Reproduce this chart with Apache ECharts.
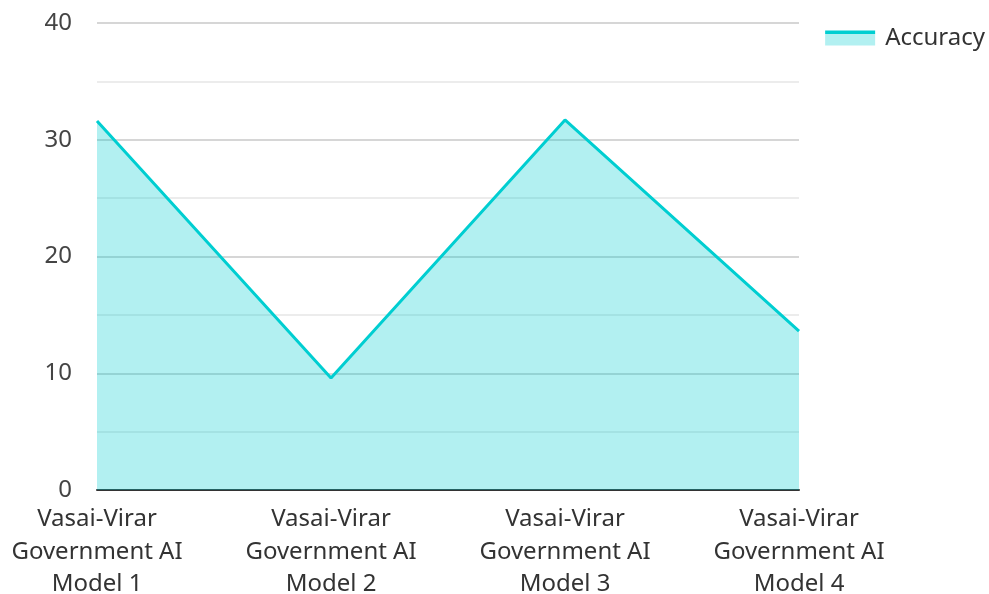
<!DOCTYPE html>
<html><head><meta charset="utf-8">
<script src="https://cdn.jsdelivr.net/npm/echarts@6/dist/echarts.min.js"></script>
<style>html,body{margin:0;padding:0;background:#fff;overflow:hidden}#c{width:989px;height:594px}</style>
</head><body><div id="c"></div>
<script>
const categories = ["Vasai-Virar Government AI Model 1","Vasai-Virar Government AI Model 2","Vasai-Virar Government AI Model 3","Vasai-Virar Government AI Model 4"];
const seriesName = "Accuracy";
const accuracy = [31.6, 9.6, 31.7, 13.6];
const yTicks = [0, 10, 20, 30, 40];

const chart = echarts.init(document.getElementById('c'), null, {renderer:'canvas'});
const font = "'Noto Sans', sans-serif";
chart.setOption({
  animation: false,
  textStyle: {fontFamily: font},
  grid: {left: 97, right: 190, top: 23, bottom: 104, containLabel: false, outerBoundsMode: 'none'},
  legend: {
    show: true, right: 4, top: 26, padding: 0, itemWidth: 50, itemHeight: 15, itemGap: 10,
    icon: 'rect',
    textStyle: {fontSize: 24, color: '#333', fontFamily: font, padding: [0, 0, 0, 5]},
    itemStyle: {color: {type:'linear', x:0, y:0, x2:0, y2:1, colorStops:[
      {offset:0, color:'#00CED1'},{offset:0.2, color:'#00CED1'},
      {offset:0.2, color:'#b2f0f1'},{offset:1, color:'#b2f0f1'}]}},
    data: [seriesName]
  },
  xAxis: {
    type: 'category', data: categories, boundaryGap: false,
    axisLine: {show: true, lineStyle: {color: '#333', width: 2}},
    axisTick: {show: false},
    splitLine: {show: false},
    axisLabel: {
      interval: 0, fontSize: 24, color: '#333', lineHeight: 32.5, margin: 13, fontFamily: font,
      formatter: v => v.replace(' Government AI ', '\nGovernment AI\n')
    }
  },
  yAxis: {
    type: 'value', min: yTicks[0], max: yTicks[yTicks.length-1], interval: 10,
    axisLine: {show: false}, axisTick: {show: false},
    axisLabel: {fontSize: 24, color: '#444', margin: 25, fontFamily: font},
    splitLine: {show: true, lineStyle: {color: '#c8c8c8', width: 1.5}},
    minorTick: {show: false, splitNumber: 2},
    minorSplitLine: {show: true, lineStyle: {color: '#e6e6e6', width: 1.5}}
  },
  series: [{
    name: seriesName, type: 'line', data: accuracy,
    showSymbol: false, symbol: 'none',
    lineStyle: {color: '#00CED1', width: 3},
    itemStyle: {color: '#00CED1'},
    areaStyle: {color: '#00CED1', opacity: 0.3}
  }]
});
</script></body></html>
